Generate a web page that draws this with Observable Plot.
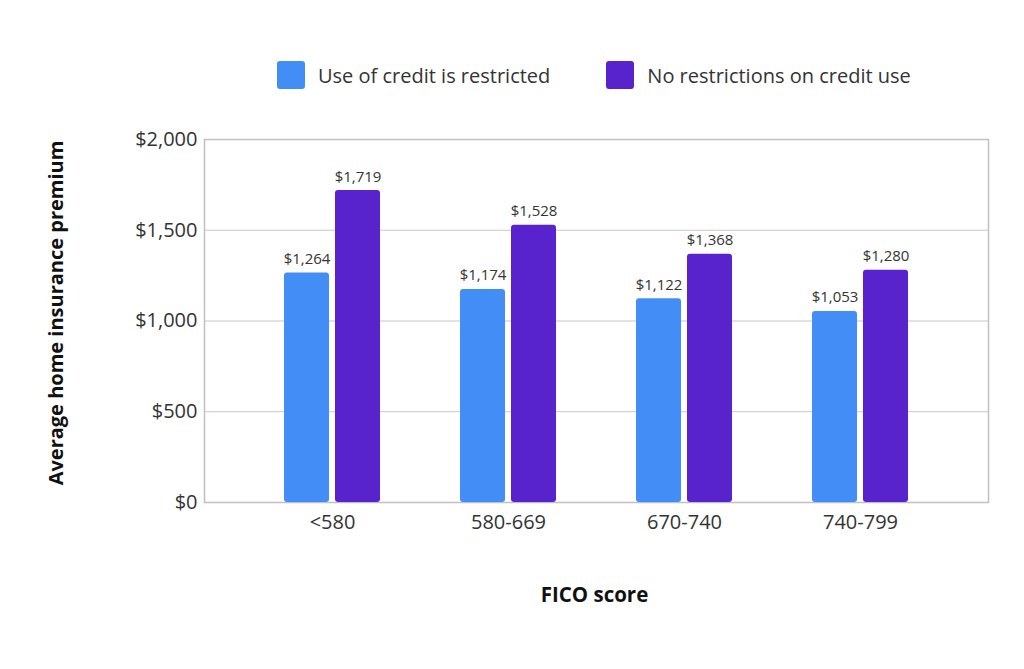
<!DOCTYPE html>
<html>
<head>
<meta charset="utf-8">
<script src="https://cdn.jsdelivr.net/npm/d3@7"></script>
<script src="https://cdn.jsdelivr.net/npm/@observablehq/plot@0.6"></script>
<style>
  html, body { margin: 0; padding: 0; background: #fff; }
  #wrap { position: relative; width: 1024px; height: 669px; font-family: "Open Sans", sans-serif; }
  #legend { position: absolute; top: 61px; left: 277px; display: flex; align-items: center; color: #333; font-size: 20px; }
  .item { display: flex; align-items: center; margin-right: 56px; }
  .sw { width: 28px; height: 28px; border-radius: 3px; margin-right: 13px; }
</style>
</head>
<body>
<div id="wrap">
  <div id="chart"></div>
  <div id="legend"></div>
</div>
<script>
const categories = ["<580", "580-669", "670-740", "740-799"];
const seriesNames = ["Use of credit is restricted", "No restrictions on credit use"];
const restricted = [1264, 1174, 1122, 1053];
const unrestricted = [1719, 1528, 1368, 1280];
const colors = ["#428ef6", "#5822cc"];
const yTicks = [0, 500, 1000, 1500, 2000];
const yTitle = "Average home insurance premium";
const xTitle = "FICO score";

const fmt = d => "$" + d3.format(",")(d);
const rowsA = categories.map((c, i) => ({cat: c, series: seriesNames[0], value: restricted[i]}));
const rowsB = categories.map((c, i) => ({cat: c, series: seriesNames[1], value: unrestricted[i]}));

const chart = Plot.plot({
  width: 1024,
  height: 669,
  marginTop: 139,
  marginBottom: 167,
  marginLeft: 204,
  marginRight: 36,
  style: {fontFamily: "Open Sans", fontSize: "20px", color: "#333", background: "transparent"},
  x: {domain: categories, paddingInner: 0.4545, paddingOuter: 0.4545, tickSize: 0, tickPadding: 12, label: null},
  y: {domain: [0, 2000], ticks: yTicks, tickFormat: fmt, tickSize: 0, tickPadding: 7, label: null},
  marks: [
    Plot.ruleY(yTicks, {stroke: "#c8c8c8", strokeWidth: 1.2}),
    Plot.frame({stroke: "#c0c0c0", strokeWidth: 1.5}),
    Plot.barY(rowsA, {x: "cat", y: "value", fill: colors[0], insetRight: 51, rx: 3}),
    Plot.barY(rowsB, {x: "cat", y: "value", fill: colors[1], insetLeft: 51, rx: 3}),
    Plot.text(rowsA, {x: "cat", y: "value", text: d => fmt(d.value), dx: -25.5, dy: -9, lineAnchor: "bottom", fontSize: 15, fill: "#333"}),
    Plot.text(rowsB, {x: "cat", y: "value", text: d => fmt(d.value), dx: 25.5, dy: -9, lineAnchor: "bottom", fontSize: 15, fill: "#333"}),
    Plot.text([yTitle], {frameAnchor: "left", textAnchor: "middle", rotate: -90, dx: -148, dy: -8, fontSize: 20, fontWeight: "bold", fill: "#111"}),
    Plot.text([xTitle], {frameAnchor: "bottom", textAnchor: "middle", dx: -2, dy: 99, fontSize: 20.5, fontWeight: "bold", fill: "#111"})
  ]
});
document.getElementById("chart").appendChild(chart);

const legend = document.getElementById("legend");
seriesNames.forEach((name, i) => {
  const item = document.createElement("div");
  item.className = "item";
  const sw = document.createElement("div");
  sw.className = "sw";
  sw.style.background = colors[i];
  const label = document.createElement("span");
  label.textContent = name;
  item.appendChild(sw);
  item.appendChild(label);
  legend.appendChild(item);
});
</script>
</body>
</html>
